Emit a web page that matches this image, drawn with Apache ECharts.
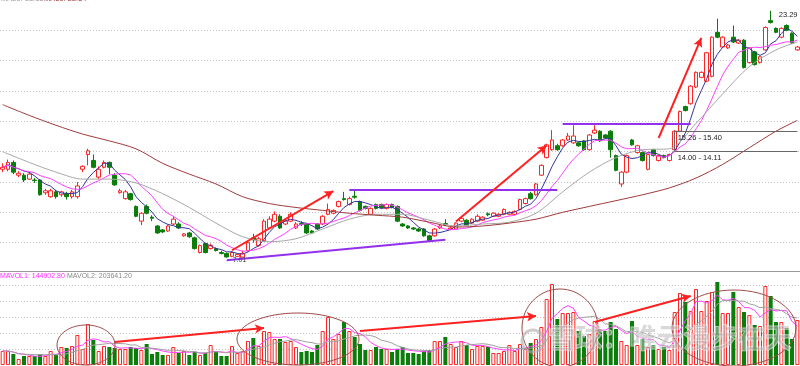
<!DOCTYPE html>
<html><head><meta charset="utf-8">
<script src="https://cdn.jsdelivr.net/npm/echarts@6/dist/echarts.min.js"></script>
<style>html,body{margin:0;padding:0;background:#fff}#c{width:800px;height:366px}</style>
</head><body><div id="c"></div>
<script>
// ---- price data ----
const open = [12.84,12.84,13.29,12.45,12.45,12.19,12.13,12.13,11.29,11.03,11.35,11.16,11.23,11.03,11.03,12.84,13.81,13.42,12.32,12.97,
13.29,12.45,11.29,10.90,11.23,10.39,9.42,10.39,9.68,9.10,8.84,8.77,9.23,9.23,8.45,8.64,8.32,7.35,7.94,7.61,
7.61,7.35,7.29,7.10,7.10,7.05,7.48,8.32,7.81,8.13,8.97,9.42,9.74,9.23,9.42,8.97,9.26,9.23,8.77,9.23,
9.23,9.87,9.94,10.39,10.90,10.52,11.06,10.71,10.39,9.87,10.52,10.52,10.26,10.52,10.39,9.23,9.10,8.97,8.90,8.90,
8.45,8.45,8.97,9.26,8.90,8.90,9.42,9.48,9.29,9.42,9.48,9.90,9.74,9.74,9.87,9.87,9.87,10.19,10.58,11.23,
11.16,12.45,13.61,14.13,14.39,14.39,14.77,14.58,14.58,14.71,14.13,15.23,15.35,15.10,15.35,13.74,11.87,12.65,14.77,13.94,
13.94,12.84,14.13,13.42,13.74,13.42,14.13,15.35,16.97,17.16,18.26,18.90,18.65,18.97,21.87,20.90,20.84,21.55,21.16,21.35,
19.87,20.58,19.87,20.71,22.64,22.13,21.55,22.32,21.81,20.71];
const close = [12.97,13.29,12.65,12.58,12.13,12.52,12.10,11.16,11.42,11.42,11.03,11.35,11.03,11.35,11.74,13.03,14.06,12.97,12.84,13.29,
12.97,11.81,11.42,11.35,10.84,9.74,9.94,9.94,9.61,8.64,8.71,9.10,9.55,8.97,8.58,8.39,7.61,7.81,7.35,7.81,
7.48,7.29,7.06,7.35,7.23,7.29,8.00,8.19,8.26,9.42,9.55,9.87,8.97,9.42,9.87,9.23,9.21,8.64,8.64,8.90,
9.74,10.19,10.13,10.71,10.84,10.90,11.00,10.13,10.26,10.26,10.26,10.32,10.52,10.32,9.42,9.10,8.97,8.90,8.77,8.45,
8.13,8.90,9.10,9.21,8.97,9.29,9.61,9.16,9.55,9.74,9.68,9.84,9.94,9.87,10.19,10.00,10.06,10.84,10.90,10.90,
11.87,13.10,14.45,14.77,14.13,14.77,15.03,15.03,14.39,14.13,15.10,15.42,14.71,14.90,14.13,12.77,12.65,13.74,14.45,14.39,
13.42,13.81,13.74,13.74,13.61,13.81,15.35,16.65,16.71,18.32,19.23,19.23,20.52,21.55,21.55,21.55,21.03,21.23,21.35,19.55,
20.84,19.74,20.26,22.19,22.52,21.87,22.13,22.00,21.16,20.90];
const low = [12.65,12.71,12.52,12.32,12.00,12.13,11.94,11.10,11.16,10.97,10.90,11.03,10.84,10.90,10.90,12.65,13.10,12.90,12.19,12.90,
12.52,11.74,11.23,10.84,10.77,9.68,9.16,9.87,9.42,8.58,8.64,8.71,9.16,8.90,8.39,8.32,7.55,7.29,7.29,7.55,
7.42,7.23,7.01,7.04,7.05,7.02,7.42,8.00,7.74,8.06,8.90,9.35,8.90,9.16,9.35,8.90,9.10,8.58,8.58,8.84,
9.16,9.81,9.87,10.32,10.77,10.45,10.90,10.06,10.19,9.81,10.19,10.26,10.19,10.26,9.35,9.03,8.90,8.84,8.71,8.39,
8.06,8.39,8.90,9.10,8.84,8.84,9.35,9.10,9.23,9.35,9.42,9.74,9.68,9.68,9.81,9.81,9.81,10.13,10.52,10.84,
11.10,12.39,13.55,14.06,14.06,14.32,14.71,14.52,14.32,14.06,14.06,15.16,14.65,14.84,13.61,12.71,11.68,12.58,14.39,13.87,
13.35,12.77,13.68,13.35,13.55,13.35,14.06,15.29,16.65,17.10,18.19,18.84,18.58,18.90,21.48,20.84,20.77,21.16,21.10,19.48,
19.81,19.68,19.81,20.65,22.45,21.81,21.48,21.94,21.10,20.65];
const high = [13.23,13.48,13.42,12.71,12.58,12.65,12.26,12.19,11.55,11.55,11.48,11.42,11.35,11.48,12.00,13.10,14.19,13.81,13.03,13.42,
13.35,12.58,11.55,11.48,11.29,10.45,10.00,10.52,9.81,9.16,8.90,9.16,9.74,9.35,8.64,8.71,8.39,7.87,8.00,7.94,
7.68,7.48,7.35,7.42,7.30,7.48,8.13,8.58,8.39,9.55,9.74,10.06,9.87,9.55,10.00,9.35,9.42,9.29,8.84,9.29,
9.81,10.58,10.19,10.77,11.35,11.03,11.48,10.77,10.45,10.32,10.58,10.58,10.58,10.58,10.45,9.29,9.16,9.03,8.97,8.97,
8.52,8.97,9.16,9.55,9.03,9.35,9.68,9.55,9.61,9.87,9.74,10.00,10.00,9.94,10.26,10.06,10.13,10.90,10.97,11.35,
11.94,13.16,14.52,15.42,14.52,14.84,15.23,15.74,14.65,14.77,15.16,15.74,15.42,15.16,15.42,13.81,12.71,13.81,14.84,14.45,
14.00,13.87,14.19,13.81,13.81,13.87,15.42,16.71,17.03,18.39,19.29,19.29,20.58,21.61,22.77,21.61,21.10,22.32,21.42,21.42,
20.90,20.65,20.32,22.26,23.29,22.19,22.19,22.39,21.87,20.97];
// volume, thousands of lots
const volume = [56,56,44,24,36,36,36,44,36,56,40,72,68,76,120,64,164,100,56,76,
72,68,64,64,72,68,60,84,44,52,40,40,72,48,56,40,52,40,48,80,
52,36,36,76,48,56,96,108,76,136,132,104,104,92,96,72,52,56,52,80,
136,192,104,124,172,136,112,84,60,60,72,64,64,52,64,72,48,48,44,56,
60,96,96,112,84,72,96,80,64,76,76,72,48,48,56,80,56,84,64,88,
104,152,264,324,184,208,208,212,136,116,124,176,144,136,172,144,96,80,176,80,
104,72,80,64,72,60,212,288,252,216,304,216,256,292,332,208,208,292,232,212,
200,160,156,316,276,172,172,148,104,180];
const maSampleIdx = [0,5,10,15,20,25,30,35,40,45,50,55,60,65,70,75,80,85,90,95,100,105,110,115,120,125,130,135,140,145,149];
const ma20Read = [14.00,13.29,12.65,12.19,12.19,11.94,11.23,10.32,9.29,8.39,8.06,8.26,8.90,9.55,9.87,9.87,9.48,9.10,9.23,9.35,9.94,11.35,12.65,13.61,14.13,14.19,15.87,17.81,19.61,20.71,21.23];
const ma60Read = [17.10,16.39,15.74,15.16,14.71,14.19,13.23,12.52,11.87,11.03,10.58,10.32,10.13,9.94,9.81,9.68,9.35,9.03,9.10,9.29,9.55,10.00,10.39,10.77,11.16,11.61,12.26,13.16,14.26,15.35,16.06];
const categories = open.map((_, i) => 'D' + (i + 1));
const priceTicks = [8,10,12,14,16,18,20,22];

function movingAvg(arr, n) {
  return arr.map((_, i) => {
    const s = Math.max(0, i - n + 1); let t = 0;
    for (let k = s; k <= i; k++) t += arr[k];
    return +(t / (i - s + 1)).toFixed(3);
  });
}
const candles = open.map((o, i) => [o, close[i], low[i], high[i]]);
const UP = '#ff2424', DOWN = '#0a7d0a';
const volData = volume.map((v, i) => ({
  value: v,
  itemStyle: close[i] >= open[i] ? {color: '#fff', borderColor: UP, borderWidth: 1} : {color: DOWN}
}));

const purple = {color: '#9330ee', width: 2, type: 'solid'};
const red = {color: '#ff2020', width: 2, type: 'solid'};
const gray = {color: '#666', width: 1, type: 'solid'};
function seg(a, b, style, arrow, label) {
  return [
    {coord: a, symbol: 'none', lineStyle: style, label: label || {show: false}},
    {coord: b, symbol: arrow ? 'arrow' : 'none', symbolSize: arrow ? [7, 9] : 0}
  ];
}
const boxLabel = (t) => ({show: true, formatter: t, position: 'insideStartBottom', color: '#222', fontSize: 7.5, distance: 3, fontFamily: 'Liberation Sans'});

const chart = echarts.init(document.getElementById('c'), null, {renderer: 'canvas'});
chart.setOption({
  animation: false,
  backgroundColor: '#fff',
  grid: [
    {left: 0, right: 0, top: -6, height: 279},
    {left: 0, right: 0, top: 281, height: 84}
  ],
  xAxis: [
    {type: 'category', data: categories, gridIndex: 0, boundaryGap: true, axisLine: {show: false}, axisTick: {show: false}, axisLabel: {show: false}},
    {type: 'category', data: categories, gridIndex: 1, boundaryGap: true, axisLine: {show: false}, axisTick: {show: false}, axisLabel: {show: false}}
  ],
  yAxis: [
    {type: 'value', gridIndex: 0, min: 6, max: 24, interval: 2, axisLabel: {show: false}, axisLine: {show: false}, axisTick: {show: false},
     splitLine: {show: true, showMinLine: false, showMaxLine: false, lineStyle: {color: '#c4c4c4', type: [1, 2], width: 1}}},
    {type: 'value', gridIndex: 1, min: 0, max: 336, interval: 64, axisLabel: {show: false}, axisLine: {show: false}, axisTick: {show: false},
     splitLine: {show: true, showMinLine: false, showMaxLine: false, lineStyle: {color: '#c4c4c4', type: [1, 2], width: 1}}}
  ],
  series: [
    {
      type: 'candlestick', name: 'K', data: candles, barWidth: 4,
      itemStyle: {color: '#fff', color0: DOWN, borderColor: UP, borderColor0: DOWN, borderWidth: 1},
      markPoint: {
        silent: true, symbol: 'circle', symbolSize: 0.1,
        data: [
          {coord: [144, 23.29], value: 23.29, label: {show: true, formatter: '23.29', position: 'right', offset: [3, 4], color: '#222', fontSize: 7.5, fontFamily: 'Liberation Sans'}},
          {coord: [42, 7.01], value: 7.01, label: {show: true, formatter: '7.01', position: 'right', offset: [1, 2], color: '#444', fontSize: 7, fontFamily: 'Liberation Sans'}}
        ]
      },
      markLine: {
        silent: true, symbol: ['none', 'none'], label: {show: false},
        data: [
          seg([65, 11.48], [104, 11.48], purple),
          seg([105, 15.87], [129, 15.87], purple),
          seg([42, 6.84], [83, 8.19], purple),
          seg([43, 7.5], [62, 11.4], red, true),
          seg([85, 9.4], [102, 14.4], red, true),
          seg([123, 14.9], [131, 21.5], red, true),
          seg([126, 15.35], [149, 15.35], gray, false, boxLabel('15.26 - 15.40')),
          seg([126, 14.06], [149, 14.06], gray, false, boxLabel('14.00 - 14.11')),
          seg([126, 15.35], [126, 14.06], gray)
        ]
      }
    },
    {type: 'line', name: 'MA5', data: movingAvg(close, 5), showSymbol: false, lineStyle: {color: '#34349a', width: 1}, z: 3},
    {type: 'line', name: 'MA10', data: movingAvg(close, 10), showSymbol: false, lineStyle: {color: '#ff40ff', width: 1}, z: 3},
    {type: 'line', name: 'MA20', data: maSampleIdx.map((x, k) => [x, ma20Read[k]]), smooth: 0.3, showSymbol: false, lineStyle: {color: '#a8a8a8', width: 1}, z: 3},
    {type: 'line', name: 'MA60', data: maSampleIdx.map((x, k) => [x, ma60Read[k]]), smooth: 0.3, showSymbol: false, lineStyle: {color: '#a03a3a', width: 1}, z: 3},
    {
      type: 'bar', name: 'VOL', xAxisIndex: 1, yAxisIndex: 1, data: volData, barWidth: 4,
      markLine: {
        silent: true, symbol: ['none', 'none'], label: {show: false},
        data: [
          seg([21, 92], [49, 148], red, true),
          seg([67, 136], [100, 196], red, true),
          seg([111, 172], [129, 276], red, true)
        ]
      }
    },
    {type: 'line', name: 'MAVOL1', xAxisIndex: 1, yAxisIndex: 1, data: movingAvg(volume, 5), showSymbol: false, lineStyle: {color: '#ff40ff', width: 1}, z: 3},
    {type: 'line', name: 'MAVOL2', xAxisIndex: 1, yAxisIndex: 1, data: movingAvg(volume, 10), showSymbol: false, lineStyle: {color: '#a0a0a0', width: 1}, z: 3}
  ],
  graphic: [
    {type: 'line', shape: {x1: 0, y1: 271.5, x2: 800, y2: 271.5}, style: {stroke: '#9a9a9a', lineWidth: 1}, silent: true},
    {type: 'text', left: 1, top: -5, style: {text: 'MA20: 18.18', fill: '#999', font: '7.5px "Liberation Sans"'}, silent: true},
    {type: 'text', left: 44, top: -5, style: {text: 'MA60: 22.54', fill: '#a03a3a', font: '7.5px "Liberation Sans"'}, silent: true},
    {type: 'text', left: 0, top: 273, style: {text: 'MAVOL1: 144902.80', fill: '#ff30ff', font: '7px "Liberation Sans"'}, silent: true},
    {type: 'text', left: 67, top: 273, style: {text: 'MAVOL2: 203641.20', fill: '#888', font: '7px "Liberation Sans"'}, silent: true},
    {type: 'ellipse', shape: {cx: 86, cy: 345, rx: 29, ry: 20}, style: {fill: 'none', stroke: '#a04a4a', lineWidth: 1}, silent: true, z: 10},
    {type: 'ellipse', shape: {cx: 298, cy: 339, rx: 61, ry: 26}, style: {fill: 'none', stroke: '#a04a4a', lineWidth: 1}, silent: true, z: 10},
    {type: 'ellipse', shape: {cx: 560, cy: 328, rx: 38, ry: 39}, style: {fill: 'none', stroke: '#a04a4a', lineWidth: 1}, silent: true, z: 10},
    {type: 'ellipse', shape: {cx: 734, cy: 328, rx: 62, ry: 38}, style: {fill: 'none', stroke: '#a04a4a', lineWidth: 1}, silent: true, z: 10},
    {type: 'circle', shape: {cx: 533, cy: 341, r: 11}, style: {fill: 'none', stroke: 'rgba(170,170,170,0.6)', lineWidth: 3}, silent: true, z: 11},
    {type: 'text', left: 548, top: 324, style: {text: '雪球：唯云漫步在天', fill: 'rgba(185,185,185,0.55)', stroke: 'rgba(255,255,255,0.6)', lineWidth: 1, font: 'bold 27px "Noto Sans CJK SC"'}, silent: true, z: 11}
  ]
});
</script></body></html>
